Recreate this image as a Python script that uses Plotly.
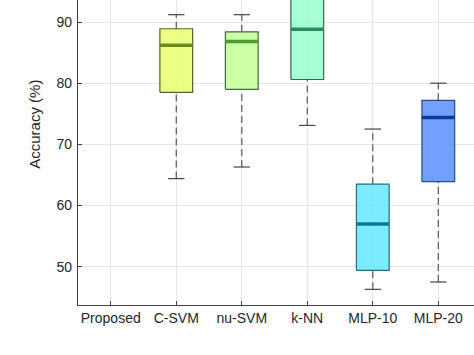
import plotly.graph_objects as go

categories = ["Proposed", "C-SVM", "nu-SVM", "k-NN", "MLP-10", "MLP-20"]
lower_whisker = [97.5, 64.4, 66.3, 73.1, 46.3, 47.5]
q1_values     = [98.0, 78.5, 79.0, 80.6, 49.4, 63.9]
median_values = [98.8, 86.2, 86.8, 88.8, 57.0, 74.4]
q3_values     = [99.4, 88.9, 88.4, 95.5, 63.5, 77.2]
upper_whisker = [100.0, 91.2, 91.2, 99.0, 72.5, 80.0]
y_ticks = [50, 60, 70, 80, 90]

fill_colors = ["rgba(255,120,120,0.7)", "rgba(232,255,110,0.85)", "rgba(196,255,150,0.85)",
               "rgba(150,255,205,0.85)", "rgba(100,232,255,0.85)", "rgba(100,150,255,0.9)"]
median_colors = ["#8a2020", "#6b8a1a", "#4f9a34", "#2a8a5a", "#0a7a90", "#0a3a9a"]
edge_colors = ["#5a2a2a", "#55602a", "#3f6a3a", "#2f6a50", "#2a6a7a", "#2a4a8a"]

box_w = 0.5
cap_w = 0.25

fig = go.Figure()
for i, name in enumerate(categories):
    x = i + 1
    # whiskers (dashed)
    for a, b in [(lower_whisker[i], q1_values[i]), (q3_values[i], upper_whisker[i])]:
        fig.add_trace(go.Scatter(x=[x, x], y=[a, b], mode="lines",
                                 line=dict(color="#555555", width=1.2, dash="7px,4px"),
                                 showlegend=False, hoverinfo="skip"))
    # caps
    for v in [lower_whisker[i], upper_whisker[i]]:
        fig.add_trace(go.Scatter(x=[x - cap_w / 2, x + cap_w / 2], y=[v, v], mode="lines",
                                 line=dict(color="#444444", width=1.2),
                                 showlegend=False, hoverinfo="skip"))
    # box
    fig.add_trace(go.Scatter(
        x=[x - box_w / 2, x + box_w / 2, x + box_w / 2, x - box_w / 2, x - box_w / 2],
        y=[q1_values[i], q1_values[i], q3_values[i], q3_values[i], q1_values[i]],
        mode="lines", fill="toself", fillcolor=fill_colors[i],
        line=dict(color=edge_colors[i], width=1.2),
        showlegend=False, hoverinfo="skip"))
    # median
    fig.add_trace(go.Scatter(x=[x - box_w / 2, x + box_w / 2], y=[median_values[i], median_values[i]],
                             mode="lines", line=dict(color=median_colors[i], width=3.5),
                             showlegend=False, hoverinfo="skip"))

fig.update_layout(
    width=474, height=355,
    margin=dict(l=78, r=0, t=0, b=50),
    paper_bgcolor="white", plot_bgcolor="white",
    font=dict(family="Liberation Sans, Arial, sans-serif", size=14, color="#262626"),
    xaxis=dict(range=[0.5, 6.545], tickmode="array", tickvals=list(range(1, len(categories) + 1)),
               ticktext=categories, showgrid=True, gridcolor="#e6e6e6", gridwidth=1,
               showline=True, linecolor="#404040", linewidth=1.2, ticks="inside", ticklen=4,
               tickcolor="#404040", zeroline=False, fixedrange=True),
    yaxis=dict(range=[43.74, 93.6], tickmode="array", tickvals=y_ticks,
               showgrid=True, gridcolor="#e6e6e6", gridwidth=1,
               showline=True, linecolor="#404040", linewidth=1.2, ticks="inside", ticklen=4,
               tickcolor="#404040", zeroline=False, fixedrange=True, ticklabelstandoff=2),
    annotations=[dict(text="Accuracy (%)", xref="paper", yref="paper", x=-0.112, y=0.593,
                      textangle=-90, showarrow=False, xanchor="center", yanchor="middle",
                      font=dict(size=15, color="#262626"))],
)

fig.write_html("out.html", config={"displayModeBar": False, "staticPlot": True},
               post_script="document.body.style.margin='0';document.body.style.overflow='hidden';")
